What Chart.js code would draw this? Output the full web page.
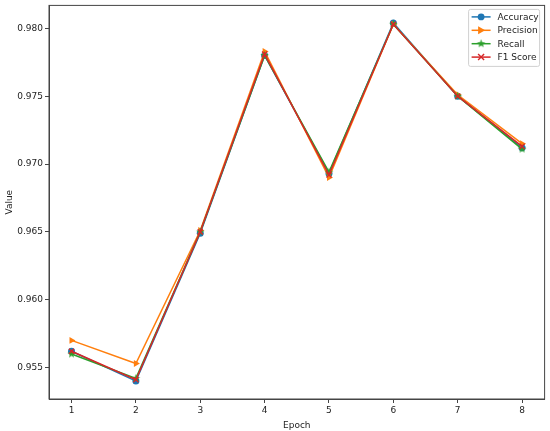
<!DOCTYPE html>
<html>
<head>
<meta charset="utf-8">
<script src="https://cdn.jsdelivr.net/npm/chart.js@4.4.1/dist/chart.umd.min.js"></script>
<style>
  html, body { margin: 0; padding: 0; background: #fff; }
  #wrap { width: 550px; height: 431px; }
</style>
</head>
<body>
<div id="wrap"><canvas id="chart"></canvas></div>
<script>
// ========================================
// DATA
// ========================================
const epochs = [1, 2, 3, 4, 5, 6, 7, 8];
const accuracy  = [0.9562, 0.9540, 0.9649, 0.9780, 0.9693, 0.9804, 0.9750, 0.9712];
const precision = [0.9570, 0.9553, 0.9651, 0.9783, 0.9690, 0.9803, 0.9751, 0.9715];
const recall    = [0.9560, 0.9542, 0.9650, 0.9780, 0.9694, 0.9803, 0.9750, 0.9711];
const f1Score   = [0.9562, 0.9541, 0.9650, 0.9781, 0.9692, 0.9803, 0.9750, 0.9713];
const yTicks = [0.955, 0.960, 0.965, 0.970, 0.975, 0.980];

const FONT = 'DejaVu Sans';
const AXIS = '#444';

// filled star marker (matplotlib '*')
function makeStar(color, r) {
    const c = document.createElement('canvas');
    const s = Math.ceil(r * 2 + 2);
    c.width = s; c.height = s;
    const g = c.getContext('2d');
    g.fillStyle = color;
    g.beginPath();
    for (let i = 0; i < 10; i++) {
        const rad = i % 2 === 0 ? r : r * 0.42;
        const a = -Math.PI / 2 + i * Math.PI / 5;
        const x = s / 2 + rad * Math.cos(a), y = s / 2 + rad * Math.sin(a);
        i === 0 ? g.moveTo(x, y) : g.lineTo(x, y);
    }
    g.closePath();
    g.fill();
    return c;
}
const starImg = makeStar('#2ca02c', 4.4);

const series = [
    { label: 'Accuracy',  data: accuracy,  color: '#1f77b4', style: 'circle',   radius: 3.5, rot: 0,  order: 4 },
    { label: 'Precision', data: precision, color: '#ff7f0e', style: 'triangle', radius: 4,   rot: 90, order: 3 },
    { label: 'Recall',    data: recall,    color: '#2ca02c', style: starImg,    radius: 4,   rot: 0,  order: 2 },
    { label: 'F1 Score',  data: f1Score,   color: '#d62728', style: 'crossRot', radius: 3.6, rot: 0,  order: 1 }
];

// ========================================
// PLUGINS: frame + legend
// ========================================
const framePlugin = {
    id: 'frame',
    afterDraw(chart) {
        const { ctx, chartArea: a } = chart;
        ctx.save();
        ctx.strokeStyle = AXIS;
        ctx.lineWidth = 1;
        ctx.strokeRect(a.left, a.top, a.right - a.left, a.bottom - a.top);
        ctx.restore();
    }
};

function legendMarker(ctx, s, x, y) {
    ctx.save();
    ctx.fillStyle = s.color;
    ctx.strokeStyle = s.color;
    ctx.lineWidth = 1.4;
    if (s.style === 'circle') {
        ctx.beginPath(); ctx.arc(x, y, 3.4, 0, Math.PI * 2); ctx.fill();
    } else if (s.style === 'triangle') {
        ctx.beginPath(); ctx.moveTo(x + 4, y); ctx.lineTo(x - 3, y - 4); ctx.lineTo(x - 3, y + 4); ctx.closePath(); ctx.fill();
    } else if (s.style === 'crossRot') {
        ctx.beginPath(); ctx.moveTo(x - 3, y - 3); ctx.lineTo(x + 3, y + 3); ctx.moveTo(x + 3, y - 3); ctx.lineTo(x - 3, y + 3); ctx.stroke();
    } else {
        ctx.drawImage(s.style, x - s.style.width / 2, y - s.style.height / 2);
    }
    ctx.restore();
}

const legendPlugin = {
    id: 'innerLegend',
    afterDraw(chart) {
        const { ctx, chartArea: a } = chart;
        const w = 71, h = 57;
        const x0 = a.right - 5 - w, y0 = a.top + 4;
        ctx.save();
        ctx.fillStyle = 'rgba(255,255,255,0.8)';
        ctx.strokeStyle = '#d0d0d0';
        ctx.lineWidth = 1;
        ctx.beginPath();
        ctx.roundRect(x0, y0, w, h, 2);
        ctx.fill();
        ctx.stroke();
        ctx.font = '9px "' + FONT + '"';
        ctx.textBaseline = 'middle';
        series.forEach((s, i) => {
            const y = y0 + 7.5 + i * 13.4;
            ctx.strokeStyle = s.color;
            ctx.lineWidth = 1.5;
            ctx.beginPath(); ctx.moveTo(x0 + 3, y); ctx.lineTo(x0 + 22, y); ctx.stroke();
            legendMarker(ctx, s, x0 + 12.5, y);
            ctx.fillStyle = '#222';
            ctx.fillText(s.label, x0 + 29, y + 0.5);
        });
        ctx.restore();
    }
};

// ========================================
// CHART
// ========================================
new Chart(document.getElementById('chart'), {
    type: 'line',
    data: {
        datasets: series.map(s => ({
            label: s.label,
            data: s.data.map((v, i) => ({ x: epochs[i], y: v })),
            borderColor: s.color,
            backgroundColor: s.color,
            borderWidth: 1.5,
            pointStyle: s.style,
            pointRadius: s.radius,
            pointRotation: s.rot,
            pointBorderWidth: s.style === 'crossRot' ? 1.4 : 0,
            pointBorderColor: s.color,
            pointBackgroundColor: s.color,
            tension: 0,
            order: s.order
        }))
    },
    options: {
        responsive: true,
        maintainAspectRatio: false,
        animation: false,
        layout: { padding: { top: 5, right: 5, left: 0, bottom: 0 } },
        plugins: { legend: { display: false }, tooltip: { enabled: false } },
        scales: {
            x: {
                type: 'linear',
                min: 0.65,
                max: 8.35,
                afterBuildTicks: scale => { scale.ticks = epochs.map(v => ({ value: v })); },
                afterFit: scale => { scale.height = 32; },
                ticks: { color: '#222', font: { family: FONT, size: 9 }, padding: 2, maxRotation: 0,
                         callback: v => String(v) },
                grid: { drawOnChartArea: false, tickLength: 4, color: AXIS },
                border: { color: AXIS },
                title: { display: true, text: 'Epoch', color: '#222', font: { family: FONT, size: 9 }, padding: { top: 0, bottom: 0 } }
            },
            y: {
                min: 0.95268,
                max: 0.98169,
                afterBuildTicks: scale => { scale.ticks = yTicks.map(v => ({ value: v })); },
                afterFit: scale => { scale.width = 49; scale.paddingTop = 0; scale.paddingBottom = 0; },
                ticks: { color: '#222', font: { family: FONT, size: 9 }, padding: 2,
                         callback: v => v.toFixed(3) },
                grid: { drawOnChartArea: false, tickLength: 4, color: AXIS },
                border: { color: AXIS },
                title: { display: true, text: 'Value', color: '#222', font: { family: FONT, size: 9 }, padding: { top: 4, bottom: 0 } }
            }
        }
    },
    plugins: [framePlugin, legendPlugin]
});
</script>
</body>
</html>
